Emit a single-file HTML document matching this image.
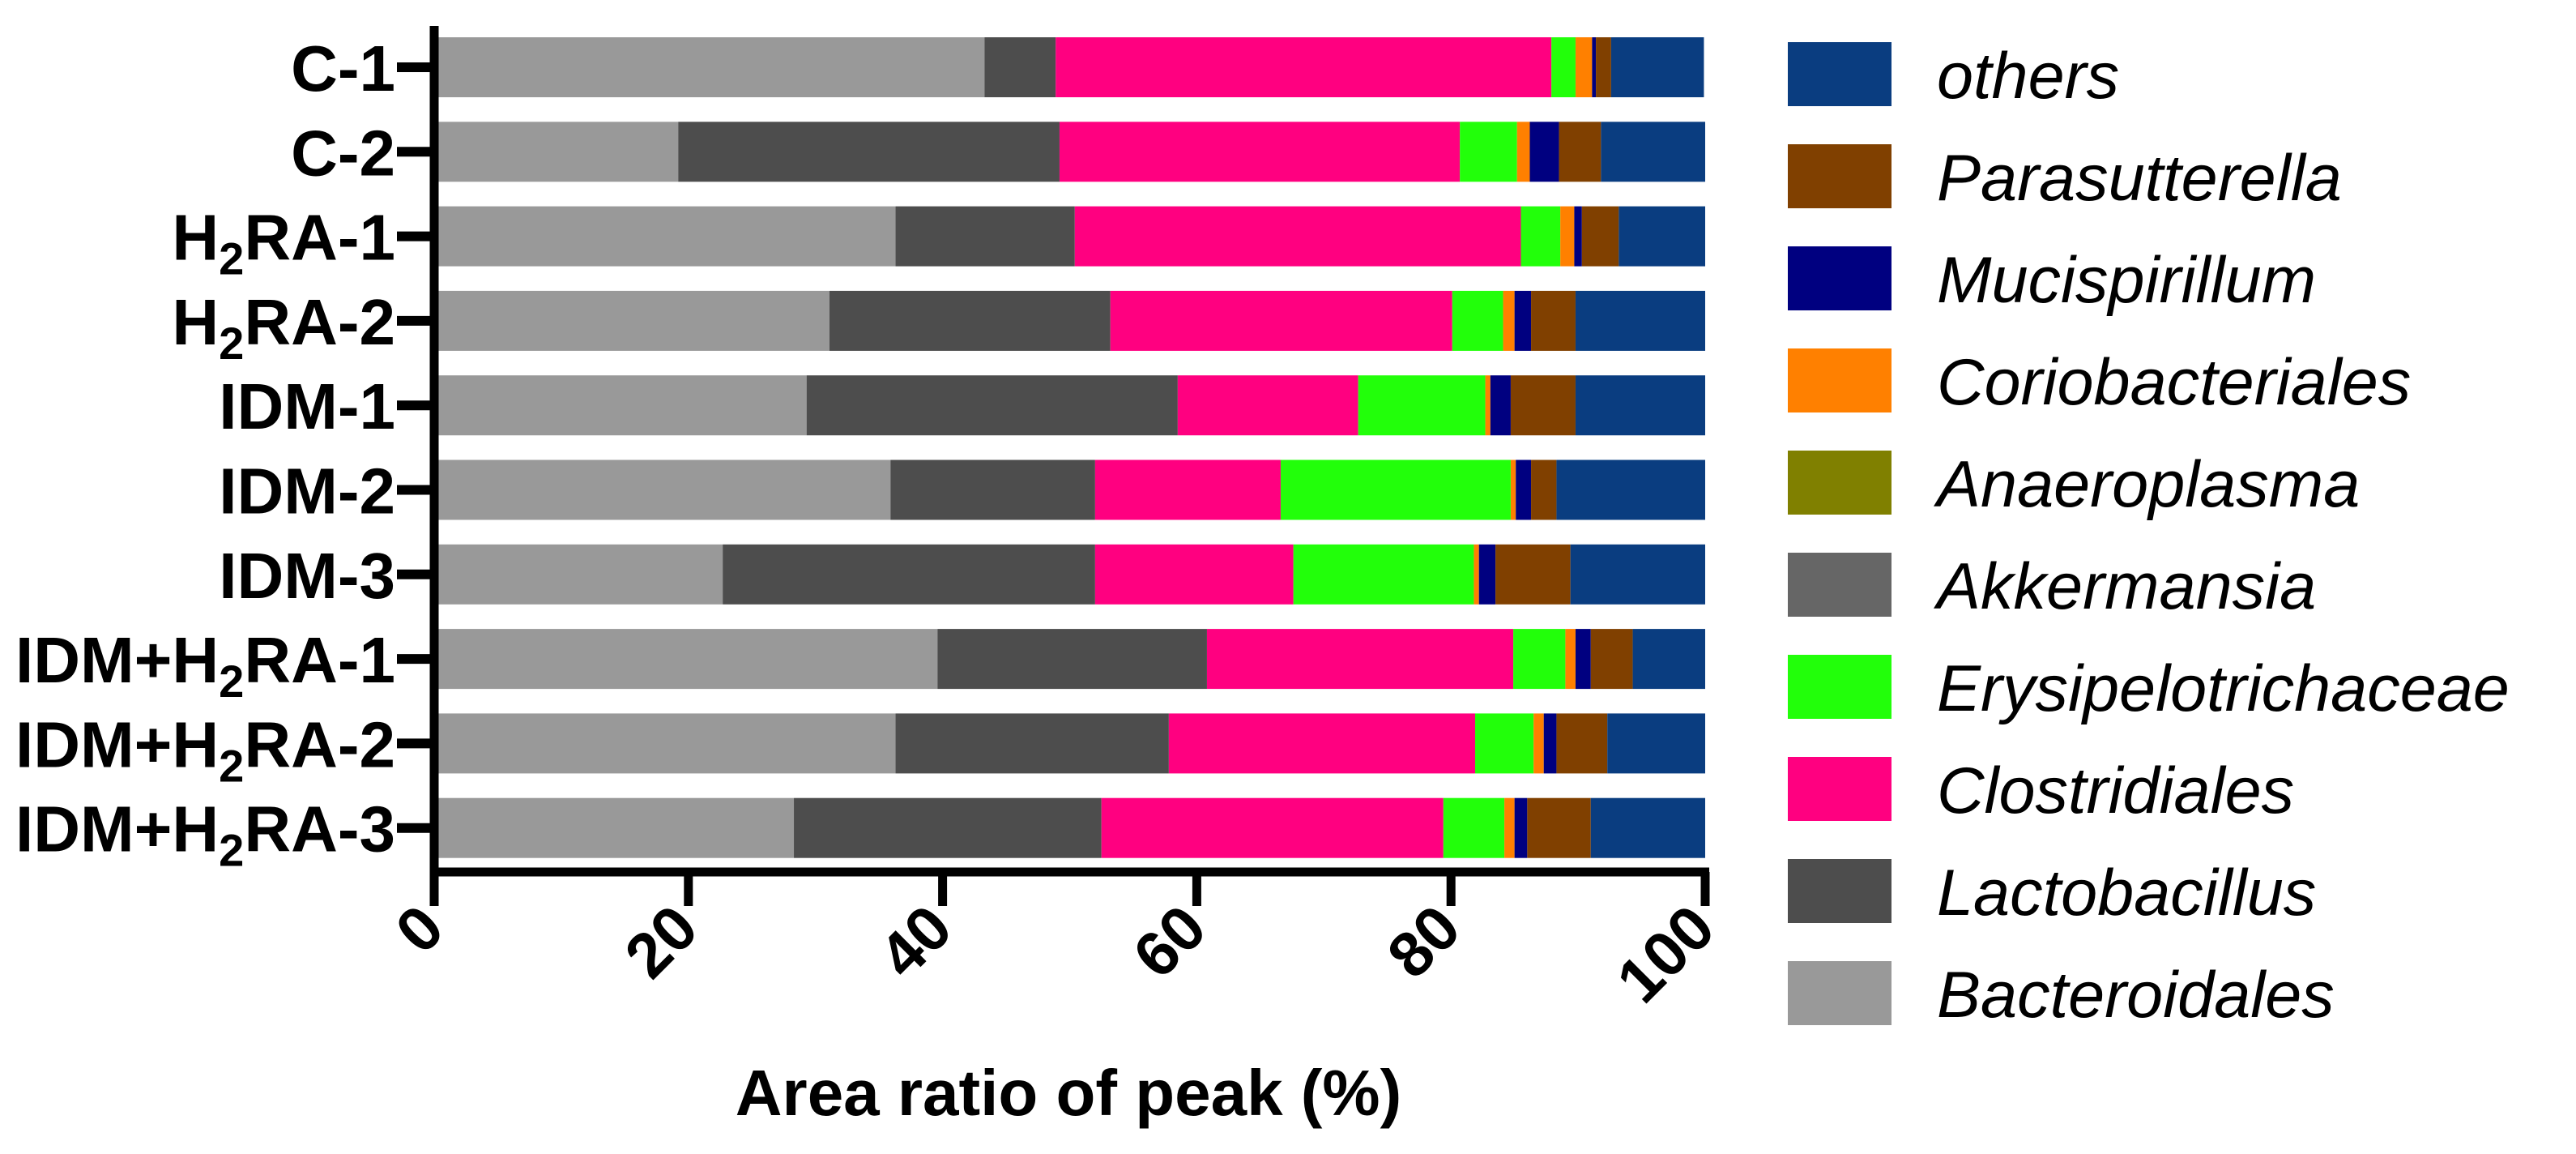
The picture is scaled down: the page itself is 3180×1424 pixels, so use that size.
<!DOCTYPE html>
<html><head><meta charset="utf-8"><style>
html,body{margin:0;padding:0;background:#fff}
svg{display:block}
text{font-family:"Liberation Sans",Arial,sans-serif}
</style></head><body>
<svg id="chart" width="3180" height="1424" viewBox="0 0 3180 1424" xmlns="http://www.w3.org/2000/svg">
<g id="bars"></g>
<g id="axes"></g>
<g id="legend"></g>
</svg>
<script>
const categories = ["C-1","C-2","H2RA-1","H2RA-2","IDM-1","IDM-2","IDM-3","IDM+H2RA-1","IDM+H2RA-2","IDM+H2RA-3"];
const seriesNames = ["Bacteroidales","Lactobacillus","Clostridiales","Erysipelotrichaceae","Akkermansia","Anaeroplasma","Coriobacteriales","Mucispirillum","Parasutterella","others"];
const seriesColors = ["#999999","#4d4d4d","#ff0080","#22ff0a","#666666","#808000","#ff8000","#000080","#804000","#0a3d80"];
const bacteroidales = [43.3,19.2,36.3,31.1,29.3,35.9,22.7,39.6,36.3,28.3];
const lactobacillus = [5.6,30.0,14.1,22.1,29.2,16.1,29.3,21.2,21.5,24.2];
const clostridiales = [39.0,31.5,35.1,26.9,14.2,14.6,15.6,24.1,24.1,26.9];
const erysipelotrichaceae = [1.9,4.5,3.1,4.0,10.0,18.1,14.2,4.1,4.6,4.8];
const akkermansia = [0,0,0,0,0,0,0,0,0,0];
const anaeroplasma = [0,0,0,0,0,0,0,0,0,0];
const coriobacteriales = [1.3,1.0,1.1,0.9,0.4,0.4,0.4,0.8,0.8,0.8];
const mucispirillum = [0.3,2.3,0.6,1.3,1.6,1.2,1.3,1.2,1.0,1.0];
const parasutterella = [1.2,3.3,2.9,3.5,5.1,2.0,5.9,3.3,4.0,5.0];
const others = [7.3,8.2,6.8,10.2,10.2,11.7,10.6,5.7,7.7,9.0];
const xTicks = [0,20,40,60,80,100];

const seriesValues = [bacteroidales,lactobacillus,clostridiales,erysipelotrichaceae,akkermansia,anaeroplasma,coriobacteriales,mucispirillum,parasutterella,others];
const NS="http://www.w3.org/2000/svg";
const X0=536, X1=2105, XMAX=100;
const ROW0=83, STEP=104.3, BARH=74;
function xs(v){return X0+(X1-X0)*v/XMAX;}
function yc(i){return ROW0+STEP*i;}
function mk(tag,attrs,parent){const e=document.createElementNS(NS,tag);for(const k in attrs)e.setAttribute(k,attrs[k]);parent.appendChild(e);return e;}
const bars=document.getElementById('bars'), axes=document.getElementById('axes'), legend=document.getElementById('legend');

categories.forEach((c,i)=>{
  let cum=0;
  seriesValues.forEach((arr,s)=>{
    const v=arr[i];
    if(v>0){
      const r=mk('rect',{x:xs(cum),y:yc(i)-BARH/2,width:xs(cum+v)-xs(cum),height:BARH,fill:seriesColors[s]},bars);
      
      
    }
    cum+=v;
  });
  const t=mk('line',{x1:490,x2:536,y1:yc(i),y2:yc(i),stroke:'#000','stroke-width':12},axes);
  
  
  const lbl=mk('text',{x:488,y:yc(i)+29,'text-anchor':'end','font-size':80,'font-weight':'bold',fill:'#000'},axes);
  
  
  const parts=c.split('H2');
  if(parts.length>1){
    lbl.appendChild(document.createTextNode(parts[0]+'H'));
    const sub=mk('tspan',{'font-size':56,dy:18},lbl);
    sub.textContent='2';
    const rest=mk('tspan',{dy:-18},lbl);
    rest.textContent=parts[1];
  } else lbl.textContent=c;
});

let a=mk('line',{x1:536,x2:536,y1:32,y2:1081,stroke:'#000','stroke-width':11},axes);


a=mk('line',{x1:531,x2:2110,y1:1076,y2:1076,stroke:'#000','stroke-width':11},axes);


xTicks.forEach(v=>{
  const t=mk('line',{x1:xs(v),x2:xs(v),y1:1076,y2:1118,stroke:'#000','stroke-width':11},axes);
  
  
  const tl=mk('text',{x:xs(v)+16,y:1150,'text-anchor':'end','font-size':78,'font-weight':'bold',fill:'#000',transform:'rotate(-45 '+(xs(v)+16)+' 1150)'},axes);
  
  
  tl.textContent=String(v);
});
const title=mk('text',{x:1319,y:1376,'text-anchor':'middle','font-size':80,'font-weight':'bold',fill:'#000'},axes);


title.textContent='Area ratio of peak (%)';

for(let k=0;k<seriesNames.length;k++){
  const s=seriesNames.length-1-k;
  const top=52+126*k;
  const g=mk('g',{},legend);
  
  
  const sw=mk('rect',{x:2207,y:top,width:128,height:79,fill:seriesColors[s]},g);
  
  
  const tx=mk('text',{x:2391,y:top+69,'font-size':81,'font-style':'italic',fill:'#000'},g);
  
  
  tx.textContent=seriesNames[s];
}
</script>
</body></html>
